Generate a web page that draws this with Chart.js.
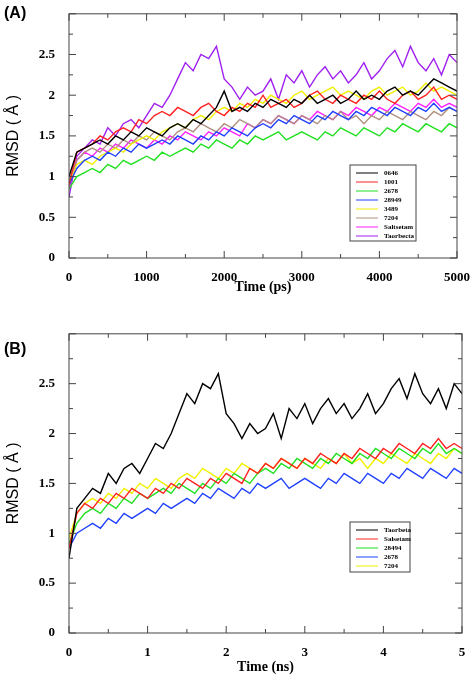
<!DOCTYPE html>
<html><head><meta charset="utf-8">
<script src="https://cdn.jsdelivr.net/npm/chart.js@4"></script>
<style>
body{margin:0;background:#fff;width:474px;height:695px;position:relative;overflow:hidden}
.c{position:absolute;left:0}
.lab{position:absolute;left:4px;font:bold 16px "Liberation Sans",Arial;}
</style></head><body>
<div class="c" style="top:0;width:474px;height:300px"><canvas id="a"></canvas></div>
<div class="c" style="top:320px;width:474px;height:360px"><canvas id="b"></canvas></div>
<div class="lab" style="top:4px">(A)</div>
<div class="lab" style="top:340px">(B)</div>
<script>
const timesPs=[0,100,200,300,400,500,600,700,800,900,1000,1100,1200,1300,1400,1500,1600,1700,1800,1900,2000,2100,2200,2300,2400,2500,2600,2700,2800,2900,3000,3100,3200,3300,3400,3500,3600,3700,3800,3900,4000,4100,4200,4300,4400,4500,4600,4700,4800,4900,5000];
const timesNs=[0,0.1,0.2,0.3,0.4,0.5,0.6,0.7,0.8,0.9,1,1.1,1.2,1.3,1.4,1.5,1.6,1.7,1.8,1.9,2,2.1,2.2,2.3,2.4,2.5,2.6,2.7,2.8,2.9,3,3.1,3.2,3.3,3.4,3.5,3.6,3.7,3.8,3.9,4,4.1,4.2,4.3,4.4,4.5,4.6,4.7,4.8,4.9,5];
const s0646=[1.0,1.3,1.35,1.4,1.45,1.4,1.5,1.45,1.55,1.5,1.6,1.55,1.5,1.6,1.65,1.6,1.7,1.65,1.75,1.85,2.05,1.8,1.85,1.8,1.9,1.85,1.95,1.9,1.85,1.95,1.9,2.0,1.9,1.95,2.0,1.9,1.95,2.05,1.95,2.0,1.95,2.05,2.1,2.0,2.05,2.0,2.1,2.2,2.15,2.1,2.05];
const s1001=[0.9,1.3,1.35,1.4,1.5,1.45,1.55,1.6,1.55,1.7,1.65,1.75,1.8,1.75,1.85,1.8,1.75,1.85,1.9,1.8,1.75,1.85,1.8,1.9,1.85,2.0,1.85,1.9,1.95,1.85,1.9,2.0,2.05,1.95,1.9,2.0,1.95,1.9,2.0,1.95,2.05,1.95,1.9,2.0,2.05,1.95,2.0,2.1,1.95,2.0,1.95];
const s2678=[0.85,1.0,1.05,1.1,1.05,1.15,1.1,1.2,1.15,1.2,1.25,1.2,1.3,1.25,1.3,1.35,1.3,1.4,1.35,1.45,1.4,1.35,1.45,1.4,1.5,1.45,1.5,1.55,1.45,1.5,1.55,1.5,1.45,1.55,1.5,1.6,1.55,1.5,1.6,1.55,1.5,1.6,1.55,1.65,1.6,1.55,1.65,1.6,1.55,1.65,1.6];
const s28949=[0.9,1.1,1.2,1.25,1.2,1.3,1.25,1.35,1.3,1.4,1.35,1.4,1.45,1.4,1.5,1.45,1.4,1.5,1.45,1.55,1.5,1.6,1.55,1.5,1.6,1.65,1.6,1.7,1.65,1.75,1.7,1.65,1.75,1.7,1.8,1.75,1.7,1.8,1.75,1.85,1.8,1.75,1.85,1.8,1.75,1.85,1.8,1.9,1.8,1.85,1.8];
const s3489=[0.9,1.15,1.2,1.15,1.25,1.3,1.35,1.3,1.4,1.45,1.5,1.45,1.55,1.6,1.65,1.6,1.7,1.75,1.7,1.8,1.85,1.8,1.9,1.85,1.95,1.9,2.0,1.95,1.9,2.0,2.05,1.95,2.0,2.05,2.1,2.0,2.05,2.0,1.95,2.05,2.1,2.0,2.05,2.1,2.0,2.05,2.15,2.05,2.1,2.05,2.0];
const s7204=[0.95,1.2,1.3,1.35,1.3,1.4,1.35,1.45,1.4,1.5,1.45,1.55,1.5,1.45,1.55,1.6,1.55,1.65,1.6,1.55,1.65,1.6,1.7,1.65,1.6,1.7,1.65,1.75,1.7,1.65,1.75,1.7,1.65,1.75,1.7,1.8,1.7,1.75,1.65,1.75,1.7,1.8,1.75,1.7,1.8,1.75,1.7,1.8,1.75,1.85,1.8];
const sSalt=[0.85,1.2,1.3,1.25,1.35,1.3,1.4,1.35,1.45,1.4,1.35,1.45,1.4,1.5,1.45,1.55,1.5,1.45,1.55,1.5,1.6,1.55,1.5,1.65,1.6,1.7,1.65,1.75,1.7,1.65,1.75,1.7,1.8,1.75,1.7,1.8,1.75,1.85,1.8,1.75,1.85,1.8,1.9,1.85,1.8,1.9,1.85,1.95,1.85,1.9,1.85];
const sTaor=[0.75,1.25,1.35,1.45,1.4,1.6,1.5,1.65,1.7,1.6,1.75,1.9,1.85,2.0,2.2,2.4,2.3,2.5,2.45,2.6,2.2,2.1,1.95,2.1,2.0,2.05,2.2,1.95,2.25,2.15,2.3,2.1,2.25,2.35,2.2,2.3,2.15,2.25,2.4,2.2,2.3,2.45,2.55,2.35,2.6,2.4,2.3,2.45,2.25,2.5,2.4];
const yTicks=[0,0.5,1,1.5,2,2.5];
const labelsA=['0646','1001','2678','28949','3489','7204','Saltsetam','Taorbecta'];
const labelsB=['Taorbeta','Salsetam','28494','2678','7204'];

function pts(t,v){return v.map((y,i)=>({x:t[i],y}));}
function ds(label,t,v,c){return {label,data:pts(t,v),borderColor:c,borderWidth:1.4,pointRadius:0,tension:0};}

const tickPlug={id:'tk',afterDraw(ch){
 const c=ch.ctx,a=ch.chartArea,x=ch.scales.x,y=ch.scales.y;
 c.save();c.strokeStyle='#444';c.lineWidth=1;
 c.strokeRect(a.left,a.top,a.right-a.left,a.bottom-a.top);
 const xs=ch.options.xt, ym=[];for(let v=0;v<=3;v+=0.25)ym.push(v);
 c.beginPath();
 xs.forEach((v,i)=>{const p=x.getPixelForValue(v),L=i%2?4:7;c.moveTo(p,a.bottom);c.lineTo(p,a.bottom-L);c.moveTo(p,a.top);c.lineTo(p,a.top+L);});
 ym.forEach((v,i)=>{const p=y.getPixelForValue(v),L=i%2?4:7;c.moveTo(a.left,p);c.lineTo(a.left+L,p);c.moveTo(a.right,p);c.lineTo(a.right-L,p);});
 c.stroke();
 const lg=ch.options.lg;
 c.fillStyle='#fff';c.fillRect(lg.x,lg.y,lg.w,lg.h);c.strokeRect(lg.x,lg.y,lg.w,lg.h);
 c.font='bold 7px "Liberation Serif"';c.textBaseline='middle';
 ch.data.datasets.forEach((d,i)=>{const yy=lg.y+8+i*lg.dy;c.strokeStyle=d.borderColor;c.beginPath();c.moveTo(lg.x+6,yy);c.lineTo(lg.x+28,yy);c.stroke();c.fillStyle='#000';c.fillText(d.label,lg.x+34,yy);});
 c.restore();}};

function mk(id,datasets,xmax,xt,xtitle,xh,padTop,lg){
 new Chart(document.getElementById(id),{type:'line',data:{datasets},plugins:[tickPlug],
 options:{xt,lg,animation:false,responsive:true,maintainAspectRatio:false,
 layout:{padding:{top:padTop,right:12,left:0,bottom:0}},
 plugins:{legend:{display:false},tooltip:{enabled:false}},
 scales:{
  x:{type:'linear',min:0,max:xmax,afterBuildTicks(s){s.ticks=xt.filter((v,i)=>i%2==0).map(v=>({value:v}));},
    afterFit(s){s.height=xh;},grid:{display:false},border:{display:false},
    ticks:{color:'#000',font:{family:'Liberation Serif',weight:'bold',size:13},padding:4,maxRotation:0,callback:v=>String(v)},
    title:{display:true,text:xtitle,color:'#000',font:{family:'Liberation Serif',weight:'bold',size:14},padding:{top:2}}},
  y:{min:0,max:3,afterBuildTicks(s){s.ticks=yTicks.map(v=>({value:v}));},afterFit(s){s.width=69;},
    grid:{display:false},border:{display:false},
    ticks:{color:'#000',font:{family:'Liberation Serif',weight:'bold',size:13},padding:6,callback:v=>String(v)},
    title:{display:true,text:'RMSD ( Å )',color:'#000',font:{family:'Liberation Sans',size:16},padding:{bottom:6}}}
 }}});
}
mk('a',[ds(labelsA[0],timesPs,s0646,'#000'),ds(labelsA[1],timesPs,s1001,'#ff2020'),ds(labelsA[2],timesPs,s2678,'#20e020'),ds(labelsA[3],timesPs,s28949,'#2040ff'),ds(labelsA[4],timesPs,s3489,'#f0f000'),ds(labelsA[5],timesPs,s7204,'#b09080'),ds(labelsA[6],timesPs,sSalt,'#ff20ff'),ds(labelsA[7],timesPs,sTaor,'#a020f0')],
 5000,[0,500,1000,1500,2000,2500,3000,3500,4000,4500,5000],'Time (ps)',42,7,{x:350,y:165,w:66,h:76,dy:9});
mk('b',[ds(labelsB[0],timesNs,sTaor,'#000'),ds(labelsB[1],timesNs,sSalt,'#ff2020'),ds(labelsB[2],timesNs,s28949,'#20e020'),ds(labelsB[3],timesNs,s2678,'#2040ff'),ds(labelsB[4],timesNs,s7204,'#f0f000')],
 5,[0,0.5,1,1.5,2,2.5,3,3.5,4,4.5,5],'Time (ns)',47,6,{x:350,y:202,w:60,h:50,dy:9});
</script></body></html>
